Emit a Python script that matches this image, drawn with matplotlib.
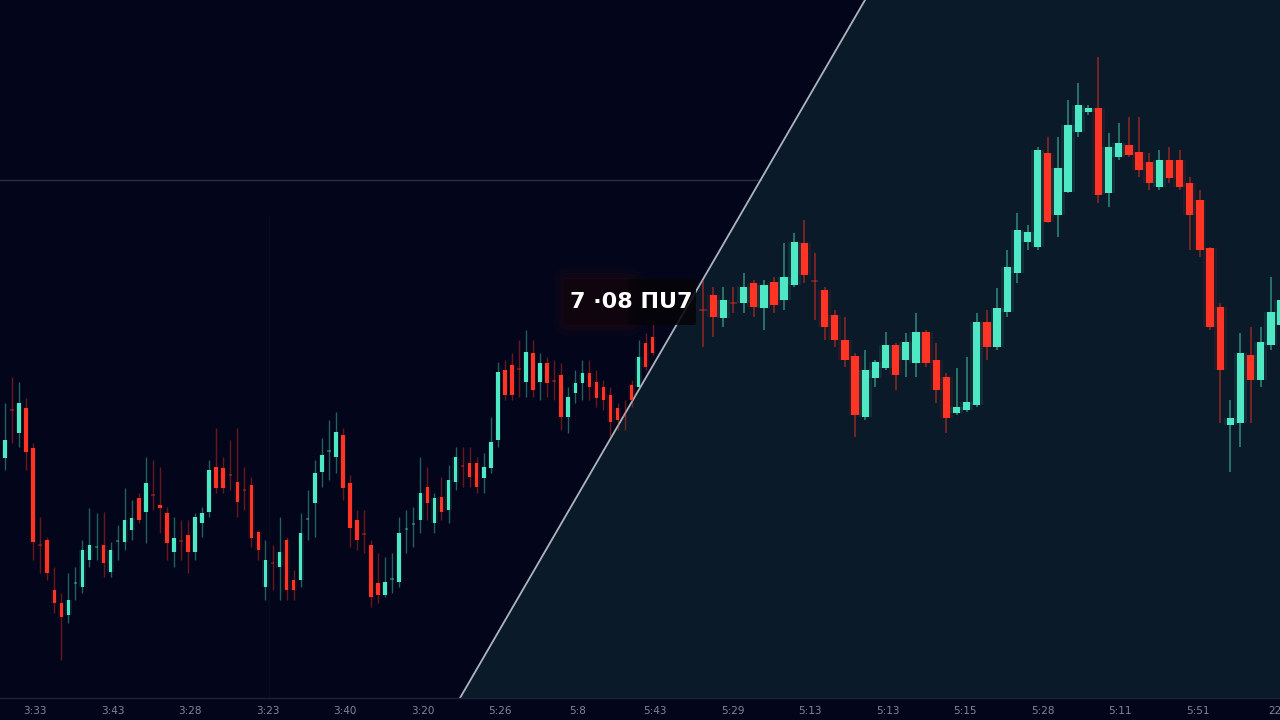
import numpy as np
import matplotlib.pyplot as plt
from matplotlib.patches import Polygon, FancyBboxPatch

# ---- left panel (zoomed-out view), price levels ----
left_open = [262, 311, 287, 312, 272, 176, 180, 130, 117, 105, 136, 133, 160, 172, 175, 148,
             178, 178, 190, 222, 208, 226, 215, 207, 168, 180, 185, 168, 197, 208, 253, 252,
             246, 238, 231, 235, 188, 133, 158, 153, 180, 140, 140, 200, 217, 248, 268, 263,
             285, 237, 200, 187, 175, 137, 125, 140, 138, 190, 195, 200, 233, 197, 223, 210,
             238, 255, 257, 257, 242, 252, 280, 350, 355, 352, 338, 367, 338, 357, 340, 345,
             303, 327, 337, 347, 338, 333, 325, 312, 305, 335, 333, 377, 383]
left_high = [317, 343, 338, 322, 277, 203, 183, 153, 127, 147, 153, 180, 212, 207, 208, 178,
             195, 232, 220, 227, 263, 260, 253, 213, 203, 200, 200, 207, 213, 260, 292, 263,
             280, 292, 253, 243, 190, 180, 175, 203, 183, 150, 207, 230, 260, 282, 300, 308,
             292, 245, 210, 210, 180, 167, 163, 167, 203, 210, 213, 263, 253, 227, 243, 255,
             273, 273, 273, 263, 267, 303, 358, 360, 367, 380, 390, 380, 367, 363, 360, 357,
             333, 350, 360, 360, 350, 340, 333, 317, 320, 340, 380, 387, 400]
left_low = [250, 277, 273, 250, 160, 147, 140, 107, 60, 97, 120, 127, 153, 160, 143, 143,
            160, 170, 180, 197, 177, 210, 187, 160, 153, 160, 147, 160, 183, 203, 227, 227,
            230, 203, 210, 173, 160, 120, 130, 120, 120, 120, 133, 180, 183, 233, 240, 247,
            220, 173, 170, 167, 113, 117, 123, 127, 133, 167, 173, 187, 200, 187, 200, 197,
            230, 233, 233, 227, 227, 247, 273, 320, 320, 323, 323, 323, 320, 323, 320, 290,
            287, 317, 320, 320, 313, 310, 283, 290, 290, 313, 333, 350, 365]
left_close = [280, 309, 317, 268, 178, 174, 147, 117, 103, 120, 138, 170, 175, 174, 157, 170,
              180, 200, 202, 200, 237, 224, 212, 177, 182, 178, 168, 203, 207, 250, 232, 232,
              244, 218, 229, 182, 170, 160, 156, 168, 130, 130, 187, 202, 247, 265, 270, 288,
              232, 192, 180, 185, 123, 125, 138, 142, 187, 192, 197, 227, 217, 222, 208, 240,
              263, 253, 243, 233, 253, 278, 348, 325, 325, 350, 368, 330, 357, 337, 338, 303,
              323, 337, 347, 333, 322, 320, 298, 300, 303, 320, 363, 353, 367]

# ---- right panel (zoomed-in view) ----
right_open = [411, 425, 402, 418, 417, 437, 412, 438, 420, 435, 477, 440, 430, 405, 380, 364,
              303, 342, 352, 375, 360, 357, 388, 360, 343, 307, 310, 315, 398, 373, 408, 447,
              478, 473, 567, 505, 528, 588, 608, 612, 527, 563, 575, 568, 558, 533, 560, 560,
              537, 520, 472, 413, 295, 297, 365, 340, 375, 395]
right_high = [440, 433, 433, 433, 447, 440, 440, 443, 477, 487, 500, 467, 433, 410, 403, 367,
              370, 360, 388, 377, 387, 407, 390, 377, 347, 352, 363, 407, 410, 432, 470, 507,
              495, 573, 583, 583, 620, 637, 615, 663, 587, 597, 603, 603, 567, 570, 573, 570,
              543, 530, 473, 417, 320, 387, 393, 393, 443, 440]
right_low = [373, 383, 393, 407, 407, 403, 390, 407, 410, 433, 437, 400, 380, 373, 353, 283,
             300, 333, 350, 330, 343, 343, 353, 317, 287, 305, 308, 313, 360, 370, 403, 437,
             470, 470, 497, 483, 527, 583, 605, 517, 513, 560, 563, 543, 530, 530, 537, 530,
             470, 463, 390, 297, 248, 273, 297, 333, 370, 380]
right_close = [409, 403, 420, 416, 433, 413, 435, 415, 443, 478, 445, 438, 393, 380, 360, 305,
               350, 358, 375, 345, 378, 388, 357, 330, 302, 313, 318, 398, 373, 412, 453, 490,
               488, 570, 498, 552, 595, 615, 612, 525, 573, 577, 565, 550, 537, 560, 542, 533,
               505, 470, 393, 350, 302, 367, 340, 378, 408, 420]

tick_labels = ['3:33', '3:43', '3:28', '3:23', '3:40', '3:20', '5:26', '5:8', '5:43',
               '5:29', '5:13', '5:13', '5:15', '5:28', '5:11', '5:51', '22']
badge_text = '7 ·08 ПU7'

UP = '#4fe8c4'
DOWN = '#ff3424'


def draw_candles(ax, o, h, l, c, width, wick_lw, wick_alpha):
    o, h, l, c = map(np.asarray, (o, h, l, c))
    x = np.arange(len(o))
    up = c >= o
    flat = np.abs(c - o) < 3
    colors = np.where(up, UP, DOWN)
    ax.vlines(x, l, h, colors=colors, lw=wick_lw, alpha=wick_alpha)
    bottom = np.minimum(o, c)
    height = np.maximum(np.abs(c - o), 2)
    # soft glow behind bodies
    ax.bar(x[~flat], height[~flat], bottom=bottom[~flat], width=width * 1.8,
           color=colors[~flat], alpha=0.1, linewidth=0)
    ax.bar(x[~flat], height[~flat], bottom=bottom[~flat], width=width,
           color=colors[~flat], linewidth=0)
    ax.bar(x[flat], height[flat], bottom=bottom[flat], width=width,
           color=colors[flat], alpha=0.35, linewidth=0)


fig = plt.figure(figsize=(12.8, 7.2), dpi=100)
fig.patch.set_facecolor('#03061a')

# background: two panels split by a diagonal
bg = fig.add_axes([0, 0, 1, 1])
bg.set_xlim(0, 1280)
bg.set_ylim(720, 0)
bg.axis('off')
bg.add_patch(Polygon([(865, 0), (1280, 0), (1280, 698), (460, 698)],
                     closed=True, facecolor='#0b1a29', edgecolor='none'))
bg.axvline(269, ymin=0.03, ymax=0.7, color='#070c20', lw=1)
bg.plot([0, 761], [180, 180], color='#2a2f3e', lw=1)
bg.plot([460, 865], [698, 0], color='#c9d2da', lw=1.3, alpha=0.85)
bg.axhline(698, color='#1a2434', lw=1)
for i, lab in enumerate(tick_labels):
    bg.text(35 + i * 77.5, 711, lab, color='#7d8796', fontsize=7.5,
            ha='center', va='center')

# left candles: zoomed-out view
axl = fig.add_axes([0, 0, 1, 1])
axl.patch.set_alpha(0)
axl.set_xlim(-0.71, 181.1)
axl.set_ylim(0, 720)
axl.axis('off')
draw_candles(axl, left_open, left_high, left_low, left_close, 0.5, 1.0, 0.4)

# right candles: zoomed-in view
axr = fig.add_axes([0, 0, 1, 1])
axr.patch.set_alpha(0)
axr.set_xlim(-69.33, 56.9)
axr.set_ylim(0, 720)
axr.axis('off')
draw_candles(axr, right_open, right_high, right_low, right_close, 0.72, 1.2, 0.5)

# price badge with a red glow on its left side
badge = fig.add_axes([0, 0, 1, 1])
badge.patch.set_alpha(0)
badge.set_xlim(0, 1280)
badge.set_ylim(720, 0)
badge.axis('off')
for pad, a in [(14, 0.10), (9, 0.15), (4, 0.25)]:
    badge.add_patch(FancyBboxPatch((568, 282), 60, 40, boxstyle=f'round,pad={pad}',
                                   facecolor='#3a0c14', edgecolor='none', alpha=a))
badge.add_patch(FancyBboxPatch((566, 281), 128, 42, boxstyle='round,pad=2',
                               facecolor='#0a0509', edgecolor='none', alpha=0.55))
badge.add_patch(FancyBboxPatch((630, 281), 64, 42, boxstyle='round,pad=2',
                               facecolor='#050408', edgecolor='none', alpha=0.7))
badge.text(631, 302, badge_text, color='white', fontsize=16, fontweight='bold',
           ha='center', va='center')

fig.savefig('out.png', dpi=100, facecolor=fig.get_facecolor())
